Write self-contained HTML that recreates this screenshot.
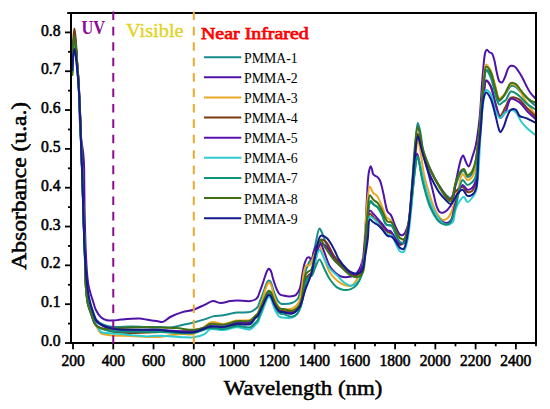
<!DOCTYPE html>
<html><head><meta charset="utf-8"><style>
html,body{margin:0;padding:0;background:#fff;}
body{width:550px;height:409px;overflow:hidden;position:relative;}
svg{position:absolute;left:0;top:0;}
text{font-family:"Liberation Serif",serif;}
</style></head><body>
<svg width="550" height="409" viewBox="0 0 550 409">
<g fill="none" stroke-width="2" stroke-linejoin="round" stroke-linecap="round">
<path d="M72.30,72.00 C72.67,63.33 72.87,52.41 73.40,46.00 C73.71,42.21 74.12,37.00 74.50,37.00 C74.86,37.00 75.25,41.70 75.60,45.00 C76.17,50.34 76.68,59.27 77.20,66.00 C77.68,72.23 78.18,77.23 78.60,84.00 C79.14,92.73 79.57,103.76 80.00,114.00 C80.45,124.74 80.79,135.84 81.20,147.00 C81.62,158.50 82.12,170.33 82.50,182.00 C82.88,193.67 83.11,205.51 83.50,217.00 C83.88,228.16 84.35,239.76 84.80,250.00 C85.19,258.91 85.55,268.18 86.00,275.00 C86.31,279.73 86.41,282.79 87.00,287.00 C87.67,291.74 88.79,297.36 90.00,302.00 C91.07,306.12 92.45,310.17 93.70,313.50 C94.69,316.15 95.07,318.61 96.70,320.50 C98.43,322.50 101.32,323.92 104.00,325.00 C106.82,326.14 109.64,326.67 113.30,327.00 C118.43,327.46 126.18,326.37 132.00,326.40 C137.09,326.43 141.58,326.90 146.30,327.00 C150.91,327.10 155.77,326.90 160.00,327.00 C163.65,327.09 166.67,327.77 170.20,327.50 C174.10,327.20 178.43,325.85 182.40,325.00 C186.19,324.18 189.82,323.43 193.50,322.50 C197.19,321.57 201.09,320.48 204.50,319.40 C207.53,318.44 209.98,317.10 213.00,316.40 C216.25,315.65 219.72,315.77 223.40,315.20 C227.62,314.55 232.39,313.15 236.90,312.60 C241.36,312.06 247.02,312.86 250.30,311.90 C252.43,311.27 253.88,310.06 255.20,309.10 C256.22,308.36 256.98,307.84 257.70,306.81 C258.64,305.47 259.19,303.21 259.90,301.45 C260.59,299.74 261.26,298.07 261.90,296.38 C262.53,294.70 263.08,293.09 263.70,291.34 C264.37,289.46 265.13,287.16 265.80,285.47 C266.32,284.17 266.73,282.95 267.30,282.06 C267.73,281.40 268.20,280.58 268.70,280.50 C269.14,280.43 269.69,280.88 270.10,281.29 C270.63,281.83 271.01,282.73 271.40,283.67 C271.91,284.90 272.24,286.68 272.70,288.14 C273.14,289.56 273.58,290.88 274.10,292.33 C274.67,293.90 275.26,295.64 276.00,297.21 C276.73,298.77 277.58,300.61 278.50,301.72 C279.19,302.54 279.89,303.16 280.70,303.54 C281.46,303.90 282.11,303.96 283.20,304.00 C285.20,304.07 289.31,303.94 291.80,303.00 C294.04,302.16 296.08,301.11 297.60,299.00 C299.77,296.00 300.28,289.87 301.60,285.30 C302.92,280.74 304.09,275.75 305.50,271.60 C306.72,268.03 308.01,264.28 309.40,261.80 C310.36,260.09 311.55,259.63 312.40,257.80 C313.77,254.84 314.21,249.52 315.30,245.00 C316.54,239.86 317.94,228.80 319.50,228.60 C320.44,228.48 321.53,231.93 322.50,234.00 C323.71,236.58 324.66,240.30 326.00,243.00 C327.19,245.40 328.67,247.33 330.00,249.50 C331.33,251.67 332.51,253.93 334.00,256.00 C335.51,258.10 337.27,259.97 339.00,262.00 C340.82,264.13 342.74,266.41 344.70,268.50 C346.64,270.57 348.44,273.26 350.70,274.50 C352.75,275.62 355.62,276.57 357.50,276.00 C359.28,275.46 360.68,273.77 361.80,271.50 C363.79,267.45 363.95,259.32 364.80,252.00 C365.88,242.67 366.14,229.26 367.30,220.00 C368.20,212.82 368.73,201.58 370.60,201.00 C371.54,200.71 372.80,203.48 374.00,204.50 C375.14,205.47 376.47,205.78 377.60,207.00 C379.20,208.72 380.61,211.78 382.00,214.50 C383.56,217.55 384.30,222.76 386.40,224.50 C387.91,225.76 390.41,224.57 391.90,225.80 C393.88,227.44 394.59,232.11 396.00,235.00 C397.30,237.65 398.32,241.19 400.00,242.50 C401.17,243.41 402.91,244.12 404.00,243.50 C405.87,242.44 406.46,237.10 407.50,232.00 C409.45,222.44 410.74,203.84 412.00,190.00 C413.23,176.51 413.92,162.01 415.00,150.00 C415.88,140.14 416.54,123.20 417.80,123.10 C418.58,123.04 419.70,129.23 420.50,133.00 C421.54,137.88 421.55,144.12 423.10,150.00 C424.87,156.72 428.18,164.74 431.10,171.00 C433.61,176.38 436.35,181.15 439.20,185.50 C441.74,189.38 444.77,193.99 447.20,196.00 C448.61,197.17 450.06,198.47 451.20,198.00 C453.12,197.21 453.70,190.12 455.30,186.00 C457.05,181.48 459.40,173.94 461.40,172.00 C462.24,171.19 463.10,170.73 463.90,171.00 C465.19,171.43 466.08,176.61 467.50,177.00 C468.60,177.30 470.14,176.19 471.20,175.00 C472.81,173.20 473.84,169.49 474.80,166.00 C476.04,161.49 476.54,155.77 477.30,150.00 C478.19,143.26 478.92,136.08 479.70,128.00 C480.66,118.12 481.57,104.19 482.50,95.00 C483.17,88.40 483.66,82.59 484.50,78.00 C485.08,74.81 485.30,70.34 486.50,70.00 C487.50,69.72 489.39,71.98 490.60,74.00 C492.72,77.55 493.89,86.11 495.50,91.00 C496.75,94.80 497.66,100.68 499.20,101.00 C500.31,101.23 501.83,98.36 503.00,97.00 C504.12,95.69 504.97,94.53 506.10,93.00 C507.57,91.01 509.08,86.76 511.00,86.00 C512.47,85.42 514.39,86.17 515.90,87.00 C517.67,87.98 519.17,90.57 520.70,92.00 C521.98,93.20 523.08,93.86 524.40,95.10 C526.12,96.71 528.04,99.16 530.00,101.00 C531.94,102.82 534.07,104.40 536.10,106.10" stroke="#168c8c"/><path d="M72.30,70.00 C72.67,61.33 72.87,50.41 73.40,44.00 C73.71,40.21 74.12,35.00 74.50,35.00 C74.86,35.00 75.25,39.70 75.60,43.00 C76.17,48.34 76.68,57.27 77.20,64.00 C77.68,70.23 78.26,75.63 78.60,82.00 C78.99,89.19 79.03,97.33 79.30,105.00 C79.57,112.67 79.73,121.29 80.20,128.00 C80.56,133.25 81.06,137.62 81.60,142.00 C82.08,145.89 82.80,149.33 83.20,153.00 C83.60,156.66 83.81,159.74 84.00,164.00 C84.26,169.88 84.20,177.70 84.30,185.00 C84.40,192.97 84.44,201.43 84.60,210.00 C84.77,219.07 85.00,229.03 85.30,238.00 C85.58,246.31 85.88,254.81 86.30,262.00 C86.64,267.88 87.00,273.44 87.50,278.00 C87.88,281.44 88.20,284.11 88.80,287.00 C89.38,289.76 90.22,292.38 91.00,295.00 C91.76,297.55 92.58,300.00 93.40,302.50 C94.22,305.00 94.69,307.61 95.90,310.00 C97.18,312.52 98.99,315.47 101.00,317.20 C102.74,318.70 104.87,319.64 106.90,320.20 C108.81,320.73 110.67,320.66 112.80,320.60 C115.31,320.53 117.71,319.90 121.00,319.60 C125.96,319.15 135.06,318.25 139.70,318.50 C142.47,318.65 143.78,319.21 146.30,319.60 C149.64,320.12 154.93,320.89 158.00,321.30 C159.98,321.57 161.19,322.31 162.90,321.90 C165.19,321.35 167.37,318.50 170.20,317.00 C173.67,315.17 178.38,313.33 182.40,312.10 C186.14,310.95 189.87,310.89 193.50,309.70 C197.24,308.48 201.07,306.31 204.50,304.80 C207.51,303.47 210.19,301.32 213.00,301.10 C215.62,300.89 218.07,303.04 220.80,303.10 C223.78,303.16 227.32,301.53 230.20,301.10 C232.61,300.74 234.28,300.56 236.90,300.50 C240.60,300.42 246.96,301.55 250.30,301.10 C252.37,300.82 253.90,300.27 255.20,299.50 C256.26,298.87 256.99,298.20 257.70,297.13 C258.65,295.70 259.19,293.25 259.90,291.35 C260.59,289.50 261.26,287.71 261.90,285.88 C262.53,284.07 263.08,282.33 263.70,280.45 C264.37,278.41 265.13,275.92 265.80,274.11 C266.32,272.71 266.72,271.38 267.30,270.44 C267.73,269.74 268.20,268.87 268.70,268.80 C269.14,268.74 269.69,269.28 270.10,269.75 C270.64,270.38 271.01,271.39 271.40,272.44 C271.91,273.83 272.24,275.80 272.70,277.44 C273.14,279.03 273.58,280.51 274.10,282.13 C274.67,283.89 275.26,285.84 276.00,287.61 C276.73,289.37 277.57,291.44 278.50,292.72 C279.18,293.66 279.88,294.39 280.70,294.85 C281.46,295.28 282.16,295.29 283.20,295.50 C284.87,295.84 287.67,296.59 289.80,296.50 C291.83,296.42 294.10,296.22 295.70,295.10 C297.43,293.89 298.56,291.77 299.60,289.20 C301.16,285.33 301.60,278.12 302.50,273.50 C303.21,269.85 303.54,266.54 304.50,263.70 C305.30,261.34 306.37,258.21 307.50,257.50 C308.10,257.13 308.81,257.23 309.40,257.50 C310.14,257.84 310.78,259.93 311.40,259.80 C312.53,259.55 312.85,252.96 314.30,250.00 C315.69,247.15 318.24,242.17 319.80,242.30 C321.28,242.43 322.31,247.17 323.50,250.00 C324.89,253.31 326.26,257.93 327.50,261.00 C328.42,263.26 328.91,264.93 330.10,266.80 C331.43,268.88 333.46,271.18 335.30,272.80 C336.92,274.23 338.48,275.48 340.40,276.20 C342.45,276.97 345.02,277.23 347.30,277.10 C349.59,276.97 352.16,276.61 354.10,275.40 C356.16,274.12 357.77,271.99 359.20,269.40 C361.13,265.91 362.37,261.82 363.50,255.70 C365.64,244.07 365.62,219.11 366.60,204.00 C367.37,192.20 367.62,178.95 368.80,172.50 C369.34,169.56 370.09,166.23 370.70,166.20 C371.15,166.18 371.61,168.28 372.00,169.50 C372.46,170.94 372.51,173.24 373.20,174.30 C373.67,175.02 374.36,175.29 375.00,175.70 C375.66,176.12 376.42,176.25 377.10,176.80 C377.97,177.50 378.91,178.57 379.60,179.80 C380.45,181.32 380.91,183.32 381.50,185.40 C382.23,187.94 382.86,191.02 383.50,194.00 C384.19,197.20 384.78,200.92 385.50,204.00 C386.13,206.69 386.42,209.59 387.50,211.50 C388.35,212.99 389.77,213.31 390.80,214.90 C392.43,217.42 393.59,222.48 395.20,225.90 C396.68,229.04 398.26,233.54 400.00,234.70 C400.96,235.33 402.05,235.51 403.00,235.00 C404.74,234.06 406.37,230.12 407.70,226.00 C410.15,218.39 411.33,203.72 412.60,191.70 C414.00,178.50 414.39,160.51 415.50,150.00 C416.18,143.57 416.76,134.57 417.70,134.50 C418.36,134.45 419.21,139.20 420.00,142.00 C420.99,145.52 422.13,150.29 423.10,154.00 C423.94,157.22 424.68,160.00 425.50,163.00 C426.32,166.00 427.19,169.02 428.00,172.00 C428.79,174.92 429.49,177.53 430.30,180.70 C431.27,184.49 432.37,189.02 433.40,193.20 C434.44,197.39 435.22,202.40 436.50,205.80 C437.44,208.30 438.36,210.93 439.70,212.00 C440.61,212.72 441.74,212.95 442.80,212.80 C444.06,212.62 445.54,211.49 446.70,210.50 C447.92,209.45 448.95,207.90 449.90,206.60 C450.77,205.40 451.48,204.84 452.20,203.00 C453.92,198.60 454.90,186.54 456.50,178.80 C457.99,171.58 459.84,161.45 461.40,158.00 C461.98,156.72 462.50,155.54 463.10,155.60 C464.08,155.70 465.23,160.91 466.30,162.90 C467.10,164.38 467.90,166.69 468.70,166.60 C469.93,166.47 471.26,160.20 472.40,156.80 C473.60,153.21 474.70,150.20 475.70,145.60 C477.24,138.52 478.54,128.16 479.60,118.20 C480.87,106.34 481.30,90.97 482.40,79.10 C483.32,69.15 483.96,55.44 485.50,51.70 C485.96,50.59 486.42,49.83 487.00,49.80 C487.69,49.76 488.54,51.59 489.40,52.20 C490.18,52.75 491.19,52.62 491.90,53.40 C493.02,54.64 493.58,57.44 494.30,60.00 C495.25,63.38 495.77,68.25 496.70,72.00 C497.53,75.37 498.13,79.99 499.50,81.50 C500.21,82.28 501.24,82.77 502.00,82.50 C503.16,82.08 504.04,79.10 505.00,77.00 C506.19,74.40 507.06,69.89 508.40,68.00 C509.19,66.87 509.99,66.06 511.00,65.80 C512.05,65.53 513.50,65.84 514.60,66.50 C515.99,67.33 517.12,69.35 518.30,71.00 C519.60,72.82 520.74,74.73 522.00,77.00 C523.56,79.80 525.26,83.74 526.80,86.60 C528.08,88.97 529.02,90.98 530.50,93.00 C532.06,95.12 534.17,97.00 536.00,99.00" stroke="#4f12a8"/><path d="M72.30,71.00 C72.67,62.33 72.87,51.41 73.40,45.00 C73.71,41.21 74.12,36.00 74.50,36.00 C74.86,36.00 75.25,40.70 75.60,44.00 C76.17,49.34 76.68,58.27 77.20,65.00 C77.68,71.23 78.18,76.23 78.60,83.00 C79.14,91.73 79.57,102.76 80.00,113.00 C80.45,123.74 80.79,134.84 81.20,146.00 C81.62,157.50 82.12,169.33 82.50,181.00 C82.88,192.67 83.12,204.25 83.50,216.00 C83.89,227.92 84.37,240.26 84.80,252.00 C85.21,263.24 85.33,275.52 86.00,285.00 C86.51,292.21 86.89,298.88 88.00,304.00 C88.78,307.60 89.92,310.01 91.00,313.00 C92.09,316.01 93.43,319.48 94.50,322.00 C95.29,323.86 95.77,325.11 96.70,326.80 C97.84,328.86 99.14,332.09 101.00,333.40 C102.64,334.55 104.92,334.45 106.90,334.80 C108.86,335.15 110.31,335.32 112.80,335.50 C117.03,335.81 123.47,335.81 130.00,336.00 C138.62,336.25 152.65,337.36 160.00,336.90 C164.31,336.63 166.64,335.75 170.20,335.30 C174.08,334.81 178.42,334.30 182.40,334.10 C186.18,333.91 189.96,335.17 193.50,334.10 C197.36,332.94 201.49,328.94 204.50,326.80 C206.68,325.25 208.22,323.35 210.00,322.60 C211.36,322.02 212.39,321.95 214.00,322.00 C216.48,322.08 219.99,324.06 223.40,324.00 C227.50,323.92 232.37,321.26 236.90,320.60 C241.34,319.95 247.07,321.23 250.30,320.00 C252.52,319.15 253.87,317.25 255.20,316.00 C256.21,315.04 256.99,314.46 257.70,313.27 C258.65,311.69 259.19,309.08 259.90,307.02 C260.59,305.02 261.26,303.08 261.90,301.11 C262.53,299.16 263.08,297.29 263.70,295.26 C264.37,293.07 265.13,290.39 265.80,288.43 C266.32,286.92 266.72,285.49 267.30,284.45 C267.73,283.68 268.19,282.70 268.70,282.60 C269.13,282.52 269.70,283.01 270.10,283.45 C270.65,284.05 271.01,285.07 271.40,286.13 C271.91,287.53 272.24,289.55 272.70,291.21 C273.14,292.82 273.58,294.32 274.10,295.96 C274.67,297.74 275.26,299.71 276.00,301.49 C276.73,303.25 277.56,305.33 278.50,306.57 C279.18,307.47 279.88,308.17 280.70,308.57 C281.46,308.94 282.11,308.92 283.20,309.00 C285.20,309.15 289.40,309.62 291.80,308.80 C293.88,308.09 295.68,306.53 297.00,305.00 C298.23,303.57 298.87,302.16 299.60,300.00 C300.75,296.57 301.21,290.86 302.00,286.00 C302.85,280.73 303.37,273.07 304.50,269.50 C305.09,267.65 305.54,266.09 306.50,265.50 C307.27,265.02 308.58,266.00 309.40,265.50 C310.55,264.80 311.15,262.36 312.00,260.50 C313.02,258.27 313.84,255.45 315.00,253.00 C316.17,250.51 317.67,245.62 319.00,245.70 C320.68,245.80 322.33,253.81 324.00,258.00 C325.73,262.36 326.88,267.53 329.20,271.40 C331.31,274.93 334.31,278.17 337.00,280.50 C339.21,282.41 341.36,283.94 343.80,284.80 C346.20,285.65 349.36,286.53 351.50,285.70 C353.67,284.86 355.17,282.28 356.70,279.70 C358.78,276.20 360.54,271.39 361.80,266.00 C363.49,258.80 363.68,249.32 364.50,240.00 C365.45,229.21 365.89,214.82 367.00,205.00 C367.82,197.81 368.45,186.63 369.90,186.40 C370.81,186.26 371.87,191.49 373.20,193.00 C374.18,194.11 375.42,193.98 376.50,195.20 C378.40,197.35 380.34,202.51 382.00,206.20 C383.63,209.81 384.53,214.67 386.40,217.10 C387.68,218.76 389.51,218.78 390.80,220.40 C392.61,222.67 393.59,227.26 395.20,230.30 C396.68,233.08 398.31,236.37 400.00,238.00 C401.13,239.08 402.47,240.36 403.50,240.00 C405.19,239.41 406.35,234.44 407.50,230.00 C409.59,221.96 410.75,206.68 412.00,195.00 C413.25,183.35 413.82,170.03 415.00,160.00 C415.90,152.39 416.96,140.03 418.00,140.00 C418.81,139.98 419.66,147.37 420.50,152.00 C421.65,158.30 422.52,167.45 424.00,174.40 C425.32,180.58 427.05,186.25 428.70,191.70 C430.20,196.66 431.67,201.63 433.40,205.80 C434.85,209.31 436.31,212.71 438.10,215.20 C439.52,217.18 441.10,219.50 442.80,219.90 C444.27,220.24 446.15,219.36 447.50,218.30 C449.16,217.00 450.20,214.86 451.50,212.00 C453.78,206.99 456.03,196.75 458.00,190.00 C459.68,184.25 460.55,174.42 462.60,174.00 C464.00,173.71 465.80,179.64 467.50,180.00 C468.79,180.28 470.37,179.18 471.50,178.00 C473.07,176.34 474.08,173.35 475.00,170.00 C476.40,164.91 476.71,157.04 477.50,150.00 C478.38,142.14 479.17,134.15 480.00,125.00 C481.01,113.88 481.82,98.94 483.00,88.00 C483.95,79.24 484.15,64.91 486.20,64.40 C487.35,64.11 489.28,67.86 490.60,70.50 C492.56,74.42 493.99,81.37 495.50,86.30 C496.83,90.63 497.44,97.87 499.20,98.50 C500.22,98.87 501.70,97.07 502.80,96.10 C503.97,95.06 504.88,93.94 506.00,92.40 C507.57,90.24 508.90,84.80 511.00,84.10 C512.74,83.53 515.22,84.98 517.10,86.60 C519.86,88.98 521.92,94.87 524.40,98.80 C526.79,102.59 529.55,106.69 531.70,109.80 C533.33,112.15 534.63,113.87 536.10,115.90" stroke="#e9a823"/><path d="M72.30,68.00 C72.67,58.00 72.89,45.20 73.40,38.00 C73.69,33.94 74.03,28.50 74.40,28.50 C74.77,28.50 75.22,34.11 75.60,38.00 C76.20,44.17 76.67,54.47 77.20,62.00 C77.67,68.70 78.18,73.94 78.60,81.00 C79.13,89.86 79.57,100.76 80.00,111.00 C80.45,121.74 80.79,132.84 81.20,144.00 C81.62,155.50 82.12,167.33 82.50,179.00 C82.88,190.67 83.12,202.25 83.50,214.00 C83.89,225.92 84.43,238.08 84.80,250.00 C85.16,261.75 85.00,275.11 85.70,285.00 C86.22,292.31 86.78,298.92 87.90,304.00 C88.68,307.54 89.75,309.76 90.80,312.80 C91.94,316.11 93.24,320.78 94.50,323.10 C95.23,324.44 95.59,325.15 96.70,326.00 C98.33,327.25 101.27,328.02 104.00,329.00 C107.37,330.20 111.67,331.84 115.50,332.50 C119.17,333.13 121.84,332.96 126.50,333.00 C134.63,333.06 148.83,332.33 160.00,332.00 C171.17,331.67 184.34,332.23 193.50,331.00 C200.02,330.12 204.75,327.43 210.00,327.00 C214.67,326.62 218.95,328.37 223.40,328.00 C227.92,327.63 232.38,325.54 236.90,324.70 C241.35,323.88 247.11,324.58 250.30,323.00 C252.60,321.86 253.82,319.31 255.20,318.00 C256.15,317.09 256.98,316.77 257.70,315.79 C258.61,314.56 259.19,312.54 259.90,310.94 C260.59,309.40 261.26,307.90 261.90,306.37 C262.53,304.86 263.08,303.41 263.70,301.85 C264.37,300.16 265.13,298.09 265.80,296.57 C266.32,295.39 266.74,294.29 267.30,293.48 C267.73,292.86 268.19,292.11 268.70,292.00 C269.14,291.90 269.69,292.22 270.10,292.55 C270.62,292.97 271.01,293.71 271.40,294.49 C271.91,295.51 272.24,297.02 272.70,298.24 C273.14,299.43 273.58,300.54 274.10,301.74 C274.67,303.04 275.27,304.50 276.00,305.79 C276.73,307.07 277.59,308.59 278.50,309.46 C279.19,310.12 279.91,310.58 280.70,310.83 C281.48,311.08 282.12,310.90 283.20,311.00 C285.21,311.18 289.34,312.41 291.80,312.00 C293.81,311.66 295.55,310.89 297.00,309.50 C298.76,307.82 299.91,304.98 301.00,302.00 C302.41,298.14 303.02,292.33 304.00,288.00 C304.85,284.24 305.20,279.83 306.50,277.50 C307.32,276.04 308.55,275.45 309.50,274.50 C310.37,273.63 311.26,273.34 312.00,272.00 C313.55,269.20 314.13,262.16 315.50,257.00 C316.99,251.42 318.08,240.92 320.70,239.70 C322.18,239.01 324.30,240.47 326.00,242.00 C328.84,244.55 330.96,251.47 334.00,256.00 C337.16,260.71 342.26,267.10 344.70,269.70 C345.79,270.86 346.10,271.26 347.30,272.00 C349.25,273.20 353.33,275.84 355.80,275.40 C358.12,274.99 360.35,272.74 361.80,270.00 C364.09,265.67 363.67,257.05 364.50,250.00 C365.42,242.14 365.81,231.65 367.00,225.00 C367.80,220.49 368.38,214.21 369.90,213.80 C370.98,213.51 372.65,216.75 374.00,218.00 C375.21,219.12 376.39,219.82 377.60,221.00 C379.05,222.41 380.44,224.27 382.00,226.00 C383.72,227.92 385.61,230.76 387.50,232.00 C388.93,232.94 390.61,232.48 391.90,233.50 C393.56,234.81 394.58,238.01 396.00,240.00 C397.29,241.82 398.57,244.82 400.00,245.00 C401.26,245.16 402.87,243.64 404.00,242.00 C405.93,239.20 406.86,233.87 408.00,228.00 C409.84,218.49 410.81,202.41 412.00,190.00 C413.14,178.10 413.88,165.16 415.00,155.00 C415.86,147.13 416.57,134.19 417.80,134.10 C418.71,134.03 420.07,141.64 421.00,145.00 C421.80,147.87 422.02,149.81 423.10,153.00 C424.81,158.03 428.23,166.23 431.10,172.00 C433.64,177.11 436.54,181.77 439.20,186.00 C441.50,189.66 443.89,193.61 446.00,196.00 C447.40,197.58 448.69,199.67 450.00,199.50 C451.71,199.27 452.91,194.08 455.00,192.00 C457.10,189.91 460.42,186.77 462.60,187.00 C464.51,187.20 465.75,191.48 467.50,192.00 C468.92,192.42 470.74,192.03 472.00,191.00 C473.84,189.49 474.98,185.91 476.00,182.00 C477.69,175.51 477.71,164.59 478.50,155.00 C479.39,144.09 480.02,131.01 481.00,120.00 C481.88,110.14 482.90,99.17 484.00,92.00 C484.69,87.47 484.81,81.37 486.20,81.00 C487.27,80.71 489.31,83.65 490.60,86.00 C492.70,89.84 493.79,97.74 495.50,103.00 C497.01,107.65 498.42,115.83 500.20,116.00 C501.66,116.14 503.32,110.85 505.00,108.00 C506.90,104.77 508.38,98.84 511.00,97.60 C513.05,96.63 515.96,97.56 518.30,98.80 C521.36,100.43 524.05,104.96 527.00,108.00 C529.98,111.06 533.07,114.07 536.10,117.10" stroke="#7b3a12"/><path d="M72.30,71.00 C72.67,62.33 72.87,51.41 73.40,45.00 C73.71,41.21 74.12,36.00 74.50,36.00 C74.86,36.00 75.25,40.70 75.60,44.00 C76.17,49.34 76.68,58.27 77.20,65.00 C77.68,71.23 78.18,76.23 78.60,83.00 C79.14,91.73 79.57,102.76 80.00,113.00 C80.45,123.74 80.79,134.84 81.20,146.00 C81.62,157.50 82.12,169.33 82.50,181.00 C82.88,192.67 83.11,204.42 83.50,216.00 C83.88,227.42 84.30,238.59 84.80,250.00 C85.30,261.58 85.59,275.27 86.50,285.00 C87.16,292.01 87.77,297.93 89.00,303.00 C89.94,306.87 91.23,310.00 92.50,313.00 C93.59,315.58 94.29,317.87 96.00,320.00 C97.96,322.44 101.08,324.99 104.00,326.50 C106.77,327.93 108.77,328.38 113.00,329.00 C122.49,330.40 145.66,329.63 160.00,330.00 C172.11,330.31 184.37,332.21 193.50,331.00 C200.05,330.13 204.73,326.58 210.00,326.00 C214.65,325.49 218.98,327.53 223.40,327.00 C227.95,326.45 232.35,323.43 236.90,322.60 C241.32,321.80 247.07,323.23 250.30,322.00 C252.52,321.15 253.84,319.11 255.20,318.00 C256.17,317.20 256.98,316.87 257.70,315.94 C258.61,314.77 259.19,312.81 259.90,311.27 C260.59,309.78 261.26,308.32 261.90,306.85 C262.53,305.39 263.08,303.99 263.70,302.47 C264.37,300.84 265.13,298.83 265.80,297.37 C266.32,296.23 266.74,295.16 267.30,294.39 C267.73,293.80 268.20,293.09 268.70,293.00 C269.14,292.92 269.69,293.27 270.10,293.62 C270.61,294.06 271.01,294.80 271.40,295.60 C271.91,296.63 272.24,298.14 272.70,299.37 C273.14,300.57 273.58,301.68 274.10,302.89 C274.67,304.21 275.27,305.68 276.00,306.99 C276.73,308.29 277.60,309.84 278.50,310.74 C279.19,311.43 279.91,311.92 280.70,312.21 C281.48,312.49 282.12,312.41 283.20,312.50 C285.21,312.68 289.35,313.48 291.80,313.00 C293.81,312.60 295.55,311.89 297.00,310.50 C298.76,308.82 299.90,305.93 301.00,303.00 C302.37,299.33 303.03,294.05 304.00,290.00 C304.85,286.44 305.22,282.25 306.50,280.00 C307.32,278.56 308.55,277.95 309.50,277.00 C310.37,276.13 311.25,275.83 312.00,274.50 C313.53,271.77 314.14,264.93 315.50,260.00 C316.95,254.77 317.93,245.27 320.50,244.00 C322.02,243.25 324.24,244.56 326.00,246.00 C328.85,248.32 330.89,255.00 334.00,259.00 C337.12,263.01 341.28,267.40 344.70,270.00 C347.22,271.91 349.62,273.60 352.00,274.00 C354.04,274.35 356.39,274.12 358.00,273.00 C359.85,271.71 360.94,269.22 362.00,266.00 C363.90,260.20 364.05,248.31 365.00,240.00 C365.87,232.36 366.35,223.37 367.50,218.00 C368.19,214.80 368.65,210.80 369.90,210.50 C371.01,210.23 372.66,213.15 374.30,214.90 C376.55,217.30 379.66,220.96 382.00,223.70 C384.00,226.05 385.73,229.09 387.50,230.30 C388.63,231.07 389.77,230.59 390.80,231.40 C392.35,232.61 393.44,235.96 395.00,238.00 C396.52,239.99 398.28,243.08 400.00,243.50 C401.30,243.81 402.88,243.21 404.00,242.00 C406.07,239.76 406.85,233.71 408.00,228.00 C409.74,219.38 410.79,205.45 412.00,195.00 C413.10,185.55 414.05,175.61 415.00,168.00 C415.70,162.42 416.15,153.57 417.00,153.50 C417.58,153.45 418.41,157.48 419.00,160.00 C419.80,163.37 420.19,167.93 421.00,172.00 C421.85,176.26 422.87,180.68 424.00,185.00 C425.14,189.35 426.61,194.35 427.80,198.00 C428.68,200.71 429.14,202.46 430.30,205.00 C431.81,208.31 434.18,213.02 436.50,216.00 C438.43,218.47 440.77,220.90 442.80,222.00 C444.23,222.78 445.68,223.27 447.00,223.00 C448.42,222.70 449.88,221.67 451.00,220.00 C452.98,217.07 453.29,210.32 455.00,205.00 C457.01,198.74 459.85,185.49 462.60,184.90 C464.16,184.56 465.78,189.45 467.50,189.80 C468.94,190.10 470.72,189.18 472.00,188.00 C473.74,186.40 474.98,183.65 476.00,180.00 C477.88,173.31 477.68,160.16 478.50,150.00 C479.35,139.51 480.02,128.10 481.00,118.00 C481.88,108.88 482.95,98.96 484.00,92.00 C484.71,87.29 484.82,80.53 486.20,80.20 C487.27,79.95 489.31,83.35 490.60,86.00 C492.70,90.31 493.73,98.94 495.50,104.60 C497.03,109.47 498.38,117.69 500.40,118.00 C502.02,118.25 504.34,113.55 506.00,110.70 C507.96,107.32 508.42,99.85 511.00,98.80 C513.18,97.91 516.86,100.50 519.50,102.40 C522.61,104.63 525.13,109.06 528.00,112.00 C530.67,114.73 533.40,117.00 536.10,119.50" stroke="#5a12b0"/><path d="M72.30,74.00 C72.67,66.00 72.89,56.07 73.40,50.00 C73.71,46.27 74.11,41.01 74.50,41.00 C74.85,40.99 75.25,45.06 75.60,48.00 C76.19,52.95 76.69,61.51 77.20,68.00 C77.69,74.16 78.18,79.23 78.60,86.00 C79.14,94.73 79.57,105.76 80.00,116.00 C80.45,126.74 80.79,137.84 81.20,149.00 C81.62,160.50 82.12,172.33 82.50,184.00 C82.88,195.67 83.12,207.33 83.50,219.00 C83.88,230.67 84.37,242.69 84.80,254.00 C85.20,264.65 85.23,275.94 86.00,285.00 C86.60,292.12 87.32,298.88 88.50,304.00 C89.33,307.60 90.42,310.01 91.50,313.00 C92.59,316.01 93.77,319.48 95.00,322.00 C95.96,323.96 97.00,325.34 98.00,327.00 C99.00,328.64 99.29,330.79 101.00,331.90 C103.46,333.49 109.11,333.02 112.80,333.40 C116.05,333.73 118.87,333.81 122.00,334.10 C125.27,334.40 128.36,334.85 132.00,335.20 C136.36,335.62 141.67,336.31 146.40,336.40 C151.00,336.49 154.91,335.75 160.00,335.80 C166.54,335.86 176.23,337.01 182.40,337.20 C186.74,337.34 189.84,337.71 193.50,337.20 C197.21,336.69 201.59,335.65 204.50,334.10 C206.81,332.86 207.55,330.24 210.00,329.40 C213.33,328.25 218.95,330.34 223.40,330.00 C227.91,329.65 232.40,327.39 236.90,327.30 C241.37,327.21 247.08,330.35 250.30,329.40 C252.54,328.74 253.85,326.25 255.20,325.00 C256.18,324.09 256.98,323.66 257.70,322.62 C258.62,321.28 259.19,319.10 259.90,317.38 C260.59,315.71 261.26,314.08 261.90,312.43 C262.53,310.80 263.08,309.24 263.70,307.54 C264.37,305.72 265.13,303.48 265.80,301.84 C266.32,300.57 266.74,299.38 267.30,298.50 C267.73,297.83 268.19,297.02 268.70,296.90 C269.13,296.80 269.69,297.15 270.10,297.50 C270.62,297.96 271.01,298.76 271.40,299.60 C271.91,300.71 272.24,302.34 272.70,303.66 C273.14,304.95 273.58,306.15 274.10,307.45 C274.67,308.87 275.26,310.44 276.00,311.84 C276.73,313.23 277.59,314.87 278.50,315.82 C279.19,316.53 279.90,317.04 280.70,317.31 C281.47,317.58 282.12,317.45 283.20,317.50 C285.21,317.59 289.39,318.34 291.80,317.60 C293.87,316.97 295.56,315.74 297.00,314.00 C298.79,311.83 299.89,308.33 301.00,305.00 C302.30,301.12 303.03,296.05 304.00,292.00 C304.85,288.44 305.31,284.50 306.50,282.00 C307.33,280.26 308.62,279.49 309.50,278.00 C310.47,276.36 311.20,274.66 312.00,272.50 C313.07,269.59 313.82,265.59 315.00,262.00 C316.28,258.11 317.85,250.13 319.50,250.00 C320.89,249.89 322.47,255.17 324.00,258.00 C325.70,261.13 327.00,265.08 329.20,268.00 C331.35,270.86 334.50,272.97 337.00,275.40 C339.36,277.70 341.38,280.44 343.80,282.20 C345.97,283.78 348.46,285.63 350.70,285.70 C352.75,285.76 354.98,284.62 356.70,283.10 C358.83,281.23 360.54,278.10 361.80,274.50 C363.57,269.45 363.69,262.04 364.50,255.00 C365.45,246.74 365.78,235.03 367.00,228.00 C367.80,223.39 367.97,217.37 369.90,216.70 C371.66,216.09 375.52,220.41 377.60,222.60 C379.46,224.56 380.36,226.99 382.00,229.00 C383.66,231.03 385.61,233.61 387.50,234.70 C388.93,235.53 390.64,234.79 391.90,235.80 C393.69,237.23 394.62,241.34 396.00,244.00 C397.32,246.56 398.38,250.36 400.00,251.50 C401.05,252.23 402.49,252.62 403.50,252.00 C405.40,250.82 406.39,244.90 407.50,240.00 C409.16,232.68 409.94,221.65 411.00,212.00 C412.13,201.70 412.86,189.78 414.00,180.00 C414.97,171.69 415.79,157.21 417.20,157.00 C417.89,156.90 418.84,160.05 419.50,162.00 C420.35,164.52 420.78,167.89 421.50,171.00 C422.28,174.37 422.90,177.41 424.00,181.50 C425.56,187.34 427.93,196.55 430.30,202.60 C432.19,207.43 434.21,211.61 436.50,215.20 C438.44,218.23 440.42,221.47 442.80,223.00 C444.72,224.23 447.33,224.98 449.10,224.60 C450.65,224.27 452.02,223.10 453.00,221.50 C454.48,219.10 454.22,213.88 455.30,210.50 C456.28,207.43 457.41,204.33 459.00,202.00 C460.37,199.99 462.45,196.99 463.90,197.10 C465.26,197.20 466.07,201.89 467.50,202.00 C469.21,202.13 472.12,197.94 473.60,195.90 C474.78,194.27 475.41,193.29 476.10,191.00 C477.45,186.52 477.82,177.90 478.50,170.00 C479.37,159.83 479.71,146.21 480.50,135.00 C481.23,124.61 481.78,113.25 483.00,105.00 C483.87,99.11 484.34,90.60 486.20,90.00 C487.36,89.63 489.32,91.96 490.60,94.00 C492.79,97.49 493.57,106.37 495.50,110.70 C496.85,113.74 498.32,117.80 500.00,118.00 C501.52,118.18 503.15,114.37 505.00,113.00 C506.82,111.65 509.09,109.83 511.00,109.80 C512.71,109.77 514.45,110.84 515.90,112.20 C517.83,114.02 518.87,118.05 520.70,120.70 C522.51,123.31 524.42,125.67 526.80,128.00 C529.46,130.60 533.00,132.93 536.10,135.40" stroke="#2ccbd2"/><path d="M72.30,72.00 C72.67,63.33 72.87,52.41 73.40,46.00 C73.71,42.21 74.12,37.00 74.50,37.00 C74.86,37.00 75.25,41.70 75.60,45.00 C76.17,50.34 76.68,59.27 77.20,66.00 C77.68,72.23 78.18,77.23 78.60,84.00 C79.14,92.73 79.57,103.76 80.00,114.00 C80.45,124.74 80.79,135.84 81.20,147.00 C81.62,158.50 82.12,170.33 82.50,182.00 C82.88,193.67 83.12,205.33 83.50,217.00 C83.88,228.67 84.43,240.50 84.80,252.00 C85.16,263.16 85.02,275.52 85.70,285.00 C86.22,292.21 86.78,298.92 87.90,304.00 C88.68,307.54 89.75,309.77 90.80,312.80 C91.94,316.08 93.01,320.48 94.50,323.00 C95.54,324.76 96.53,325.94 98.00,327.00 C99.63,328.17 101.76,328.85 104.00,329.50 C106.66,330.26 108.81,330.61 113.00,331.00 C122.52,331.89 145.66,331.65 160.00,332.00 C172.11,332.29 184.37,334.10 193.50,332.90 C200.04,332.04 204.74,328.57 210.00,328.00 C214.65,327.50 218.95,329.32 223.40,329.00 C227.92,328.67 232.39,326.28 236.90,326.00 C241.35,325.73 247.08,328.34 250.30,327.30 C252.54,326.58 253.86,324.29 255.20,323.00 C256.20,322.04 256.98,321.50 257.70,320.37 C258.63,318.90 259.19,316.55 259.90,314.69 C260.59,312.88 261.26,311.12 261.90,309.34 C262.53,307.57 263.08,305.88 263.70,304.05 C264.37,302.07 265.13,299.65 265.80,297.88 C266.32,296.50 266.73,295.22 267.30,294.26 C267.73,293.53 268.18,292.63 268.70,292.50 C269.13,292.39 269.69,292.74 270.10,293.10 C270.63,293.56 271.01,294.41 271.40,295.29 C271.91,296.46 272.24,298.19 272.70,299.59 C273.14,300.95 273.58,302.21 274.10,303.58 C274.67,305.07 275.26,306.73 276.00,308.20 C276.73,309.66 277.58,311.39 278.50,312.37 C279.18,313.10 279.90,313.62 280.70,313.89 C281.47,314.15 282.13,313.81 283.20,314.00 C285.23,314.36 289.33,316.92 291.80,316.70 C293.79,316.53 295.56,315.46 297.00,314.00 C298.78,312.19 299.91,309.17 301.00,306.00 C302.42,301.86 303.02,295.61 304.00,291.00 C304.85,287.04 305.35,282.57 306.50,280.00 C307.21,278.41 307.99,277.25 309.00,276.50 C309.87,275.86 311.14,276.31 312.00,275.50 C313.37,274.21 313.82,270.55 315.00,268.00 C316.29,265.20 318.00,259.40 319.50,259.40 C321.00,259.40 322.45,265.01 324.00,268.00 C325.68,271.25 327.07,275.00 329.20,278.20 C331.38,281.48 334.22,285.46 337.00,287.40 C339.16,288.91 341.49,289.63 343.80,289.90 C346.06,290.17 348.58,289.92 350.70,289.10 C352.89,288.25 354.98,286.82 356.70,284.80 C358.84,282.28 360.48,278.90 361.80,274.50 C363.85,267.68 364.27,256.61 365.20,247.10 C366.20,236.84 366.25,223.29 367.50,215.00 C368.30,209.67 368.88,202.53 370.50,202.00 C371.45,201.69 372.79,204.10 374.00,205.00 C375.16,205.86 376.47,206.12 377.60,207.30 C379.22,209.00 380.60,212.24 382.00,215.00 C383.54,218.04 384.31,223.14 386.40,224.80 C387.91,226.00 390.41,224.72 391.90,225.90 C393.88,227.48 394.57,232.20 396.00,235.00 C397.28,237.52 398.36,240.76 400.00,242.00 C401.17,242.89 402.88,243.63 404.00,243.00 C406.04,241.85 406.86,235.45 408.00,230.00 C409.83,221.23 410.75,205.69 412.00,195.00 C413.06,185.97 413.96,177.09 415.00,170.00 C415.78,164.71 416.53,156.24 417.40,156.20 C418.06,156.17 418.87,161.10 419.50,164.00 C420.27,167.55 420.73,172.10 421.50,176.00 C422.24,179.76 422.87,182.80 424.00,187.00 C425.55,192.78 427.68,201.46 430.30,207.40 C432.53,212.45 435.25,217.78 438.10,220.70 C440.08,222.73 442.31,224.31 444.40,224.60 C446.24,224.85 448.32,224.51 449.90,223.00 C452.78,220.25 454.03,211.53 456.00,205.00 C458.29,197.39 459.77,180.76 462.60,180.00 C464.06,179.60 465.66,184.82 467.50,184.90 C469.65,185.00 473.09,181.98 474.80,178.80 C477.52,173.75 476.67,163.40 477.50,155.00 C478.43,145.58 479.12,135.38 480.00,125.00 C480.95,113.78 481.76,99.95 483.00,90.00 C483.93,82.54 484.36,70.90 486.20,70.50 C487.36,70.25 489.29,74.16 490.60,77.00 C492.61,81.37 493.86,89.87 495.50,94.90 C496.73,98.66 497.57,104.09 499.20,104.60 C500.29,104.94 501.81,102.84 503.00,102.00 C504.07,101.25 504.99,100.91 506.00,99.80 C507.63,98.01 508.82,92.14 511.00,91.50 C513.00,90.91 515.92,93.38 518.30,95.10 C521.21,97.20 523.76,101.21 526.80,103.70 C529.71,106.08 533.00,107.77 536.10,109.80" stroke="#10917a"/><path d="M72.40,75.00 C72.73,64.67 72.84,51.23 73.40,44.00 C73.70,40.09 74.11,35.01 74.50,35.00 C74.85,34.99 75.26,39.01 75.60,42.00 C76.21,47.28 76.68,57.03 77.20,64.00 C77.67,70.30 78.18,75.23 78.60,82.00 C79.14,90.73 79.57,101.76 80.00,112.00 C80.45,122.74 80.79,133.84 81.20,145.00 C81.62,156.50 82.12,168.33 82.50,180.00 C82.88,191.67 83.12,203.17 83.50,215.00 C83.89,227.16 84.43,240.02 84.80,252.00 C85.15,263.31 85.02,275.52 85.70,285.00 C86.22,292.21 86.78,298.92 87.90,304.00 C88.68,307.54 89.75,309.76 90.80,312.80 C91.94,316.11 93.24,320.78 94.50,323.10 C95.23,324.44 95.59,325.15 96.70,326.00 C98.33,327.25 101.39,328.56 104.00,329.00 C106.79,329.47 109.45,328.69 113.00,328.50 C118.16,328.22 125.17,327.69 132.00,327.50 C139.99,327.27 150.09,327.29 158.00,327.40 C164.64,327.50 170.30,327.59 176.30,328.00 C182.13,328.40 188.42,330.08 193.50,329.80 C197.60,329.57 201.54,328.60 204.50,327.40 C206.74,326.49 207.65,324.60 210.00,324.00 C213.39,323.13 218.96,325.13 223.40,324.70 C227.93,324.26 232.37,321.98 236.90,321.30 C241.34,320.63 247.10,321.97 250.30,320.60 C252.57,319.63 253.83,317.24 255.20,316.00 C256.16,315.13 256.98,314.80 257.70,313.84 C258.61,312.64 259.19,310.68 259.90,309.12 C260.59,307.62 261.26,306.16 261.90,304.68 C262.53,303.21 263.08,301.80 263.70,300.28 C264.37,298.64 265.13,296.62 265.80,295.15 C266.32,294.01 266.74,292.93 267.30,292.15 C267.73,291.54 268.19,290.81 268.70,290.70 C269.14,290.60 269.68,290.90 270.10,291.23 C270.61,291.63 271.01,292.34 271.40,293.09 C271.91,294.08 272.24,295.54 272.70,296.72 C273.14,297.87 273.58,298.93 274.10,300.09 C274.67,301.36 275.27,302.76 276.00,304.00 C276.73,305.24 277.60,306.71 278.50,307.54 C279.19,308.19 279.91,308.62 280.70,308.86 C281.48,309.10 282.12,308.86 283.20,309.00 C285.22,309.27 289.35,311.16 291.80,310.80 C293.81,310.51 295.54,309.36 297.00,308.00 C298.60,306.51 299.80,304.61 300.80,302.00 C302.31,298.06 302.62,290.89 303.50,286.00 C304.25,281.85 304.44,276.99 305.70,274.50 C306.45,273.03 307.54,272.28 308.50,271.50 C309.31,270.84 310.27,270.95 311.00,270.00 C312.40,268.17 313.02,263.09 314.00,259.50 C315.02,255.76 315.77,251.44 317.00,248.00 C318.06,245.04 319.34,240.08 320.70,240.00 C322.02,239.93 323.25,244.41 325.00,247.10 C327.41,250.80 330.89,256.38 334.00,260.00 C336.62,263.05 339.34,265.15 342.10,267.70 C344.90,270.29 347.81,273.87 350.70,275.40 C352.95,276.59 355.49,277.56 357.50,277.10 C359.48,276.65 361.39,275.26 362.70,272.80 C365.37,267.79 364.71,254.45 365.50,245.00 C366.32,235.20 366.66,223.95 367.50,215.00 C368.18,207.71 368.25,195.64 369.90,195.20 C370.77,194.97 371.92,198.32 373.20,199.60 C374.48,200.88 376.27,201.40 377.60,202.90 C379.28,204.80 380.50,207.71 382.00,210.50 C383.78,213.80 385.30,219.74 387.50,221.50 C388.83,222.57 390.64,221.58 391.90,222.60 C393.70,224.06 394.60,228.35 396.00,231.00 C397.30,233.46 398.36,236.76 400.00,238.00 C401.17,238.89 402.88,239.63 404.00,239.00 C406.04,237.85 406.87,231.62 408.00,226.00 C409.96,216.22 410.83,198.59 412.00,185.00 C413.16,171.59 413.81,155.74 415.00,145.00 C415.81,137.71 416.61,126.76 417.70,126.70 C418.53,126.65 419.64,133.35 420.50,137.00 C421.46,141.07 421.72,145.21 423.10,150.00 C424.90,156.23 428.25,164.54 431.10,171.00 C433.65,176.77 436.49,182.29 439.20,187.00 C441.46,190.93 443.70,194.95 446.00,197.50 C447.65,199.32 449.64,201.97 451.00,201.50 C453.30,200.71 453.43,189.14 455.30,183.70 C456.98,178.80 459.44,172.20 461.40,170.20 C462.25,169.33 463.10,168.76 463.90,169.00 C465.18,169.39 466.10,174.77 467.50,175.10 C468.61,175.36 470.13,173.98 471.20,172.70 C472.75,170.84 473.84,167.41 474.80,164.10 C476.01,159.93 476.54,154.85 477.30,149.50 C478.21,143.04 478.92,135.94 479.70,128.00 C480.66,118.18 481.60,104.49 482.50,95.00 C483.18,87.79 483.75,81.19 484.50,76.00 C485.03,72.37 484.99,67.14 486.20,66.80 C487.21,66.51 489.31,69.37 490.60,71.70 C492.72,75.53 493.93,83.74 495.50,88.80 C496.77,92.89 497.51,99.27 499.20,99.80 C500.28,100.14 501.91,98.24 503.00,97.00 C504.26,95.57 504.95,93.54 506.10,91.50 C507.54,88.95 508.98,83.77 511.00,82.90 C512.44,82.28 514.42,83.15 515.90,84.10 C517.74,85.28 518.99,88.08 520.70,90.20 C522.60,92.56 524.76,95.67 526.80,97.60 C528.43,99.14 530.03,100.40 531.70,101.20 C533.14,101.90 534.63,102.00 536.10,102.40" stroke="#416f15"/><path d="M72.20,70.00 C72.60,65.00 72.89,58.86 73.40,55.00 C73.72,52.54 74.13,49.00 74.50,49.00 C74.87,49.00 75.24,52.54 75.60,55.00 C76.16,58.87 76.71,64.92 77.20,70.00 C77.71,75.24 78.18,79.87 78.60,86.00 C79.16,94.24 79.58,105.02 80.00,115.00 C80.45,125.64 80.79,136.84 81.20,148.00 C81.62,159.50 82.12,171.33 82.50,183.00 C82.88,194.67 83.12,206.33 83.50,218.00 C83.88,229.67 84.18,241.60 84.80,253.00 C85.39,263.91 86.03,275.94 87.10,285.00 C87.90,291.76 88.75,297.37 90.00,302.60 C91.04,306.94 92.46,310.88 93.70,314.30 C94.70,317.04 95.04,319.67 96.70,321.60 C98.42,323.61 101.49,324.89 104.00,326.00 C106.37,327.05 108.67,327.60 111.30,328.20 C114.28,328.88 116.67,329.37 121.00,329.70 C129.63,330.36 153.42,329.12 160.00,329.70 C162.25,329.90 162.34,330.24 164.50,330.50 C169.95,331.15 185.28,333.40 193.50,332.30 C199.87,331.45 204.72,327.57 210.00,326.70 C214.63,325.94 218.95,327.14 223.40,326.70 C227.91,326.25 232.39,324.45 236.90,324.00 C241.35,323.56 247.15,325.51 250.30,324.00 C252.70,322.85 253.76,319.31 255.20,317.90 C256.11,317.00 256.97,316.84 257.70,315.97 C258.60,314.89 259.19,313.10 259.90,311.70 C260.59,310.33 261.26,309.01 261.90,307.66 C262.53,306.34 263.08,305.06 263.70,303.67 C264.37,302.18 265.13,300.35 265.80,299.02 C266.32,297.98 266.75,297.01 267.30,296.30 C267.73,295.74 268.20,295.10 268.70,295.00 C269.14,294.91 269.68,295.20 270.10,295.51 C270.60,295.88 271.01,296.54 271.40,297.24 C271.90,298.14 272.24,299.49 272.70,300.57 C273.15,301.64 273.58,302.62 274.10,303.69 C274.67,304.86 275.27,306.15 276.00,307.30 C276.73,308.45 277.61,309.81 278.50,310.58 C279.20,311.19 279.91,311.59 280.70,311.82 C281.48,312.06 282.12,311.86 283.20,312.00 C285.21,312.27 289.16,314.40 291.80,313.70 C294.67,312.93 297.48,310.07 299.60,306.90 C302.44,302.64 303.48,294.90 305.50,289.20 C307.42,283.79 309.77,279.07 311.40,273.50 C313.17,267.46 313.93,260.53 315.50,254.20 C317.04,247.97 317.87,237.24 320.70,235.80 C322.33,234.97 324.81,236.49 326.70,238.00 C329.52,240.26 332.30,246.21 334.40,250.00 C336.16,253.18 336.78,256.09 338.70,259.10 C340.92,262.57 344.64,267.01 347.30,269.40 C349.10,271.01 350.62,272.09 352.40,272.80 C354.03,273.46 355.92,273.99 357.50,273.70 C359.05,273.41 360.65,272.70 361.80,271.10 C363.83,268.27 364.22,260.98 365.20,255.70 C366.23,250.17 367.03,244.48 367.80,238.60 C368.61,232.37 368.14,219.99 369.90,219.30 C370.71,218.98 371.82,221.14 373.00,222.00 C374.35,222.98 376.14,223.68 377.60,224.80 C379.15,225.99 380.51,227.38 382.00,229.00 C383.79,230.95 385.55,234.56 387.50,235.80 C388.91,236.70 390.58,236.06 391.90,236.90 C393.48,237.91 394.68,240.21 396.00,242.00 C397.38,243.87 398.50,246.78 400.00,247.90 C401.08,248.70 402.50,249.54 403.50,249.00 C405.49,247.93 406.37,240.93 407.50,235.00 C409.38,225.15 410.30,207.89 411.50,195.00 C412.62,182.95 413.32,170.52 414.50,160.00 C415.48,151.32 416.48,136.41 417.80,136.30 C418.62,136.23 419.64,141.99 420.50,145.00 C421.41,148.21 422.22,151.86 423.10,155.00 C423.89,157.82 424.59,160.20 425.50,163.00 C426.53,166.16 427.67,169.76 429.00,173.00 C430.31,176.19 431.73,179.11 433.40,182.30 C435.25,185.83 437.43,190.05 439.70,193.20 C441.67,195.93 443.98,198.35 446.00,200.30 C447.62,201.87 449.38,204.31 450.70,204.20 C451.80,204.11 452.53,202.37 453.50,201.00 C454.92,198.99 456.24,194.94 458.00,193.00 C459.37,191.49 461.14,189.59 462.60,189.80 C464.33,190.05 465.65,195.29 467.50,195.90 C468.99,196.39 471.04,195.62 472.40,194.60 C474.02,193.39 475.14,191.52 476.10,188.50 C478.20,181.88 477.64,165.04 478.50,154.40 C479.26,145.03 480.09,137.03 480.90,128.00 C481.75,118.49 481.96,104.81 483.50,98.70 C484.24,95.75 485.06,92.53 486.20,92.40 C487.40,92.27 489.29,95.81 490.60,98.50 C492.61,102.64 494.02,110.11 495.50,115.60 C496.86,120.65 498.12,127.61 499.20,130.20 C499.62,131.22 499.90,132.20 500.40,132.20 C501.28,132.19 502.95,128.32 504.00,126.00 C505.20,123.33 505.78,119.78 507.00,117.00 C508.14,114.41 509.22,110.85 511.00,109.80 C512.37,108.99 514.56,109.03 515.90,109.80 C517.52,110.72 517.74,114.49 519.50,115.90 C521.33,117.37 524.27,117.23 526.80,118.30 C529.76,119.56 533.00,121.57 536.10,123.20" stroke="#121a8c"/>
</g>
<g stroke="#000" stroke-width="1.8" fill="none">
<path d="M68,13 H536 V343 H71 V13" stroke-width="2" stroke-linecap="round" stroke-linejoin="miter"/>
<line x1="65" y1="343.00" x2="71" y2="343.00"/><line x1="65" y1="304.18" x2="71" y2="304.18"/><line x1="65" y1="265.35" x2="71" y2="265.35"/><line x1="65" y1="226.53" x2="71" y2="226.53"/><line x1="65" y1="187.71" x2="71" y2="187.71"/><line x1="65" y1="148.88" x2="71" y2="148.88"/><line x1="65" y1="110.06" x2="71" y2="110.06"/><line x1="65" y1="71.24" x2="71" y2="71.24"/><line x1="65" y1="32.41" x2="71" y2="32.41"/><line x1="68" y1="323.59" x2="71" y2="323.59"/><line x1="68" y1="284.76" x2="71" y2="284.76"/><line x1="68" y1="245.94" x2="71" y2="245.94"/><line x1="68" y1="207.12" x2="71" y2="207.12"/><line x1="68" y1="168.29" x2="71" y2="168.29"/><line x1="68" y1="129.47" x2="71" y2="129.47"/><line x1="68" y1="90.65" x2="71" y2="90.65"/><line x1="68" y1="51.82" x2="71" y2="51.82"/><line x1="73.01" y1="343" x2="73.01" y2="349.3"/><line x1="93.14" y1="343" x2="93.14" y2="346.3"/><line x1="113.27" y1="343" x2="113.27" y2="349.3"/><line x1="133.40" y1="343" x2="133.40" y2="346.3"/><line x1="153.53" y1="343" x2="153.53" y2="349.3"/><line x1="173.66" y1="343" x2="173.66" y2="346.3"/><line x1="193.79" y1="343" x2="193.79" y2="349.3"/><line x1="213.92" y1="343" x2="213.92" y2="346.3"/><line x1="234.05" y1="343" x2="234.05" y2="349.3"/><line x1="254.18" y1="343" x2="254.18" y2="346.3"/><line x1="274.31" y1="343" x2="274.31" y2="349.3"/><line x1="294.44" y1="343" x2="294.44" y2="346.3"/><line x1="314.57" y1="343" x2="314.57" y2="349.3"/><line x1="334.70" y1="343" x2="334.70" y2="346.3"/><line x1="354.83" y1="343" x2="354.83" y2="349.3"/><line x1="374.96" y1="343" x2="374.96" y2="346.3"/><line x1="395.09" y1="343" x2="395.09" y2="349.3"/><line x1="415.22" y1="343" x2="415.22" y2="346.3"/><line x1="435.35" y1="343" x2="435.35" y2="349.3"/><line x1="455.48" y1="343" x2="455.48" y2="346.3"/><line x1="475.61" y1="343" x2="475.61" y2="349.3"/><line x1="495.74" y1="343" x2="495.74" y2="346.3"/><line x1="515.87" y1="343" x2="515.87" y2="349.3"/><line x1="536.00" y1="343" x2="536.00" y2="346.3"/>
</g>
<line x1="113.27" y1="11.4" x2="113.27" y2="344" stroke="#8b0a8f" stroke-width="2" stroke-dasharray="8.6 6.82"/><line x1="193.79" y1="11.4" x2="193.79" y2="344" stroke="#eaaa2e" stroke-width="2" stroke-dasharray="8.6 6.82"/>
<g font-size="17" fill="#000" stroke="#000" stroke-width="0.6">
<text x="60.5" y="346.10" text-anchor="end" textLength="19.5" lengthAdjust="spacingAndGlyphs">0.0</text><text x="60.5" y="307.28" text-anchor="end" textLength="19.5" lengthAdjust="spacingAndGlyphs">0.1</text><text x="60.5" y="268.45" text-anchor="end" textLength="19.5" lengthAdjust="spacingAndGlyphs">0.2</text><text x="60.5" y="229.63" text-anchor="end" textLength="19.5" lengthAdjust="spacingAndGlyphs">0.3</text><text x="60.5" y="190.81" text-anchor="end" textLength="19.5" lengthAdjust="spacingAndGlyphs">0.4</text><text x="60.5" y="151.98" text-anchor="end" textLength="19.5" lengthAdjust="spacingAndGlyphs">0.5</text><text x="60.5" y="113.16" text-anchor="end" textLength="19.5" lengthAdjust="spacingAndGlyphs">0.6</text><text x="60.5" y="74.34" text-anchor="end" textLength="19.5" lengthAdjust="spacingAndGlyphs">0.7</text><text x="60.5" y="35.51" text-anchor="end" textLength="19.5" lengthAdjust="spacingAndGlyphs">0.8</text><text x="61.39" y="365.5" textLength="23.25" lengthAdjust="spacingAndGlyphs">200</text><text x="101.65" y="365.5" textLength="23.25" lengthAdjust="spacingAndGlyphs">400</text><text x="141.91" y="365.5" textLength="23.25" lengthAdjust="spacingAndGlyphs">600</text><text x="182.17" y="365.5" textLength="23.25" lengthAdjust="spacingAndGlyphs">800</text><text x="218.55" y="365.5" textLength="31.00" lengthAdjust="spacingAndGlyphs">1000</text><text x="258.81" y="365.5" textLength="31.00" lengthAdjust="spacingAndGlyphs">1200</text><text x="299.07" y="365.5" textLength="31.00" lengthAdjust="spacingAndGlyphs">1400</text><text x="339.33" y="365.5" textLength="31.00" lengthAdjust="spacingAndGlyphs">1600</text><text x="379.59" y="365.5" textLength="31.00" lengthAdjust="spacingAndGlyphs">1800</text><text x="419.85" y="365.5" textLength="31.00" lengthAdjust="spacingAndGlyphs">2000</text><text x="460.11" y="365.5" textLength="31.00" lengthAdjust="spacingAndGlyphs">2200</text><text x="500.37" y="365.5" textLength="31.00" lengthAdjust="spacingAndGlyphs">2400</text>
</g>
<text x="223.7" y="395" font-size="22" stroke="#000" stroke-width="0.55" textLength="158.6" lengthAdjust="spacingAndGlyphs">Wavelength (nm)</text>
<text transform="translate(26,269.8) rotate(-90)" font-size="22" stroke="#000" stroke-width="0.55" textLength="168" lengthAdjust="spacingAndGlyphs">Absorbance (u.a.)</text>
<text x="81.4" y="34.4" font-size="18.2" font-weight="bold" fill="#8b0a8f" textLength="23.6" lengthAdjust="spacingAndGlyphs">UV</text>
<text x="126.1" y="36.8" font-size="19" fill="#e2d220" stroke="#e2d220" stroke-width="0.3" textLength="57.5" lengthAdjust="spacingAndGlyphs">Visible</text>
<text x="201" y="38.8" font-size="17.3" fill="#ff0000" stroke="#ff0000" stroke-width="0.75" textLength="107.7" lengthAdjust="spacingAndGlyphs">Near Infrared</text>
<g stroke-width="2" fill="none">
<line x1="204" y1="57.20" x2="241.3" y2="57.20" stroke="#168c8c"/><line x1="204" y1="77.32" x2="241.3" y2="77.32" stroke="#4f12a8"/><line x1="204" y1="97.44" x2="241.3" y2="97.44" stroke="#e9a823"/><line x1="204" y1="117.56" x2="241.3" y2="117.56" stroke="#7b3a12"/><line x1="204" y1="137.68" x2="241.3" y2="137.68" stroke="#5a12b0"/><line x1="204" y1="157.80" x2="241.3" y2="157.80" stroke="#2ccbd2"/><line x1="204" y1="177.92" x2="241.3" y2="177.92" stroke="#10917a"/><line x1="204" y1="198.04" x2="241.3" y2="198.04" stroke="#416f15"/><line x1="204" y1="218.16" x2="241.3" y2="218.16" stroke="#121a8c"/>
</g>
<g font-size="13.8" fill="#000">
<text x="244" y="62.70">PMMA-1</text><text x="244" y="82.82">PMMA-2</text><text x="244" y="102.94">PMMA-3</text><text x="244" y="123.06">PMMA-4</text><text x="244" y="143.18">PMMA-5</text><text x="244" y="163.30">PMMA-6</text><text x="244" y="183.42">PMMA-7</text><text x="244" y="203.54">PMMA-8</text><text x="244" y="223.66">PMMA-9</text>
</g>
</svg>
</body></html>
